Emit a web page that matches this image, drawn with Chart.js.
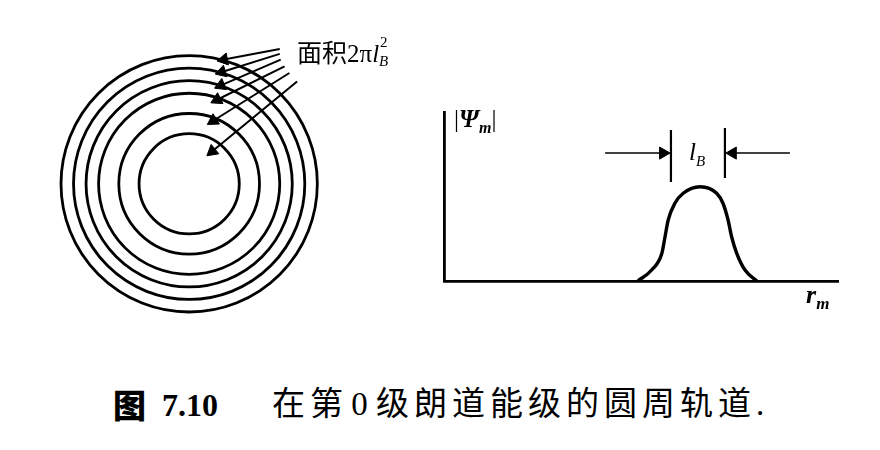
<!DOCTYPE html>
<html>
<head>
<meta charset="utf-8">
<script src="https://cdn.jsdelivr.net/npm/chart.js@4.4.1/dist/chart.umd.min.js"></script>
<style>
  html, body { margin: 0; padding: 0; background: #fff; }
  body {
    width: 880px; height: 450px; position: relative; overflow: hidden;
    font-family: "Liberation Serif", "Noto Sans CJK SC", serif; color: #000;
  }
  .box { position: absolute; }
  .lbl { position: absolute; white-space: nowrap; line-height: 1; }
  .lbl sub, .lbl sup { line-height: 0; }
</style>
</head>
<body>
<div class="box" style="left:0;top:0;width:440px;height:360px"><canvas id="orbits"></canvas></div>
<div class="box" style="left:430px;top:100px;width:420px;height:200px"><canvas id="profile"></canvas></div>

<!-- labels -->
<div class="lbl" style="left:297px;top:41px;font-size:25px">面积2π<i>l</i><span style="position:relative;display:inline-block;width:14px;height:20px"><span style="position:absolute;left:1px;top:-7px;font-size:15px">2</span><span style="position:absolute;left:0;top:12px;font-size:15px;font-style:italic">B</span></span></div>
<div class="lbl" style="left:454px;top:106px;font-size:25px">|<b><i>Ψ</i></b><sub style="font-size:16px"><b><i>m</i></b></sub>|</div>
<div class="lbl" style="left:806px;top:282px;font-size:26px"><b><i>r</i></b><sub style="font-size:17px"><b><i>m</i></b></sub></div>
<div class="lbl" style="left:689px;top:139px;font-size:25px"><i>l</i><sub style="font-size:15px"><i>B</i></sub></div>

<!-- caption -->
<div class="lbl" style="left:113px;top:388px;font-size:33px;font-family:'Noto Sans CJK SC';font-weight:900">图</div>
<div class="lbl" style="left:162px;top:389px;font-size:32px;font-weight:bold">7.10</div>
<div class="lbl" style="left:272px;top:388px;font-size:33px;letter-spacing:5px;word-spacing:-10px">在第 0 级朗道能级的圆周轨道.</div>

<script>
// 圆周轨道半径（图上读出，圆心为原点）
const orbitRadii = [52, 73, 94, 107, 120, 133];

// 面积标注的引线：起点与箭头终点
const leaderFrom = [[94, 141], [94, 136], [95, 130], [99, 123], [104, 116], [112, 107]];
const leaderTo = [[36, 130], [34, 117], [33, 103], [29, 88], [25, 66], [24, 34]];

// 右图 |Ψm| 随 rm 的分布
const radialPos = [49.2, 52.7, 55.3, 56.1, 56.9, 58.6, 60.7, 65.0, 69.2, 70.8, 72.1, 73.0, 74.3, 76.4, 79.4];
const psiAbs = [0, 6.5, 16.4, 26.2, 36.1, 46.0, 51.9, 55.8, 51.9, 46.0, 36.1, 26.2, 16.4, 6.5, 0];

// lB 宽度标记：两条竖线和两支箭头
const lbBarX = [57.6, 71.3];
const lbBarTop = [89.3, 90.5];
const lbBarBottom = [58.6, 60.9];
const lbArrowY = 75.7;
const lbArrowFrom = [40.9, 87.8];
const lbArrowTo = [55.6, 73.3];

const INK = "#000";

// 箭头朝向：根据两点的像素位置旋转三角形
function arrowRotation(ctx) {
    const ds = ctx.chart.data.datasets[ctx.datasetIndex].data;
    const sx = ctx.chart.scales.x, sy = ctx.chart.scales.y;
    const dx = sx.getPixelForValue(ds[1].x) - sx.getPixelForValue(ds[0].x);
    const dy = sy.getPixelForValue(ds[1].y) - sy.getPixelForValue(ds[0].y);
    return Math.atan2(dx, -dy) * 180 / Math.PI;
}

function arrowDataset(from, to, width, size) {
    return {
        type: "line",
        data: [{ x: from[0], y: from[1] }, { x: to[0], y: to[1] }],
        borderColor: INK,
        borderWidth: width,
        pointRadius: [0, size],
        pointStyle: "triangle",
        pointRotation: arrowRotation,
        pointBackgroundColor: INK,
        pointBorderColor: INK,
        pointBorderWidth: 1,
        clip: false,
    };
}

const hidden = { display: false };

// 左图：同心圆轨道
const orbitSets = [{
    type: "scatter",
    data: orbitRadii.map((r) => ({ x: 0, y: 0, r: r })),
    pointStyle: "circle",
    pointRadius: (c) => {
        const s = c.chart.scales.x;
        return Math.abs(s.getPixelForValue(c.raw.r) - s.getPixelForValue(0));
    },
    pointBackgroundColor: "rgba(0,0,0,0)",
    pointBorderColor: INK,
    pointBorderWidth: 2.8,
    clip: false,
}];
leaderFrom.forEach((p, i) => orbitSets.push(arrowDataset(p, leaderTo[i], 2, 7)));

new Chart(document.getElementById("orbits"), {
    type: "scatter",
    data: { datasets: orbitSets },
    options: {
        responsive: true,
        maintainAspectRatio: false,
        animation: false,
        events: [],
        layout: { padding: 0 },
        plugins: { legend: hidden, tooltip: { enabled: false } },
        scales: {
            x: { type: "linear", display: false, min: -188, max: 252 },
            y: { type: "linear", display: false, min: -176, max: 184 },
        },
    },
});

// 右图：波函数幅度
const axisStyle = {
    type: "linear",
    min: 0,
    max: 100,
    ticks: { display: false },
    grid: { display: false, drawTicks: false },
    border: { display: true, color: INK, width: 2.8 },
};

const profileSets = [{
    type: "line",
    data: radialPos.map((x, i) => ({ x: x, y: psiAbs[i] })),
    borderColor: INK,
    borderWidth: 3.4,
    pointRadius: 0,
    cubicInterpolationMode: "monotone",
    clip: false,
}];
lbBarX.forEach((x, i) => profileSets.push({
    type: "line",
    data: [{ x: x, y: lbBarTop[i] }, { x: x, y: lbBarBottom[i] }],
    borderColor: INK,
    borderWidth: 2.2,
    pointRadius: 0,
    clip: false,
}));
lbArrowFrom.forEach((x, i) =>
    profileSets.push(arrowDataset([x, lbArrowY], [lbArrowTo[i], lbArrowY], 1.6, 7)));

new Chart(document.getElementById("profile"), {
    type: "line",
    data: { datasets: profileSets },
    options: {
        responsive: true,
        maintainAspectRatio: false,
        animation: false,
        events: [],
        layout: { padding: { left: 14, right: 12, top: 12, bottom: 19 } },
        plugins: { legend: hidden, tooltip: { enabled: false } },
        scales: { x: axisStyle, y: axisStyle },
    },
});
</script>
</body>
</html>
